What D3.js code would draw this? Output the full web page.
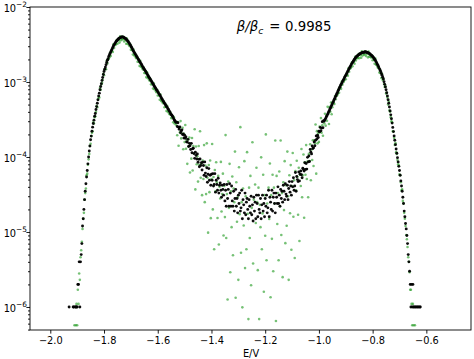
<!DOCTYPE html>
<html><head><meta charset="utf-8">
<script src="https://cdn.jsdelivr.net/npm/d3@7"></script>
<style>body{margin:0;background:#fff}svg{display:block}text{font-family:"DejaVu Sans",sans-serif}</style>
</head><body>
<svg id="chart" width="474" height="359"></svg>
<script>
// Histogram bins in E/V
const binStart = -1.93;
const binWidth = 0.0025;

// black series: P(E/V) per bin (null = empty bin)
const blackP = [
/*0*/ 1e-6,null,null,null,null,null,1e-6,1e-6,null,1e-6,
/*10*/ 1e-6,1e-6,1e-6,2e-6,2e-6,4e-6,1e-6,4e-6,5e-6,7e-6,
/*20*/ 1.2e-5,1.5e-5,2.0e-5,2.7e-5,3.5e-5,4.4e-5,5.4e-5,6.6e-5,8.1e-5,1.0e-4,
/*30*/ 1.2e-4,1.4e-4,1.7e-4,1.9e-4,2.2e-4,2.5e-4,2.8e-4,3.1e-4,3.5e-4,3.8e-4,
/*40*/ 4.3e-4,4.7e-4,5.2e-4,5.8e-4,6.5e-4,7.1e-4,7.9e-4,8.7e-4,9.5e-4,1.05e-3,
/*50*/ 1.15e-3,1.26e-3,1.38e-3,1.48e-3,1.58e-3,1.70e-3,1.82e-3,1.95e-3,2.04e-3,2.19e-3,
/*60*/ 2.29e-3,2.40e-3,2.51e-3,2.63e-3,2.75e-3,2.88e-3,3.02e-3,3.13e-3,3.24e-3,3.35e-3,
/*70*/ 3.47e-3,3.55e-3,3.63e-3,3.72e-3,3.80e-3,3.85e-3,3.89e-3,3.94e-3,3.98e-3,4.0e-3,
/*80*/ 4.0e-3,3.94e-3,3.89e-3,3.85e-3,3.80e-3,3.72e-3,3.63e-3,3.55e-3,3.47e-3,3.35e-3,
/*90*/ 3.24e-3,3.13e-3,3.02e-3,2.90e-3,2.79e-3,2.68e-3,2.57e-3,2.48e-3,2.40e-3,2.32e-3,
/*100*/ 2.24e-3,2.16e-3,2.09e-3,2.02e-3,1.95e-3,1.88e-3,1.82e-3,1.76e-3,1.70e-3,1.64e-3,
/*110*/ 1.58e-3,1.53e-3,1.48e-3,1.43e-3,1.38e-3,1.33e-3,1.29e-3,1.24e-3,1.20e-3,1.16e-3,
/*120*/ 1.12e-3,1.08e-3,1.05e-3,1.01e-3,9.8e-4,9.4e-4,9.1e-4,8.8e-4,8.5e-4,8.2e-4,
/*130*/ 7.9e-4,7.7e-4,7.4e-4,7.2e-4,6.9e-4,6.7e-4,6.5e-4,6.2e-4,6.0e-4,5.8e-4,
/*140*/ 5.6e-4,5.4e-4,5.2e-4,5.1e-4,4.9e-4,4.7e-4,4.6e-4,4.4e-4,4.3e-4,4.1e-4,
/*150*/ 4.0e-4,3.8e-4,3.7e-4,3.6e-4,3.5e-4,3.35e-4,3.2e-4,3.1e-4,3.0e-4,2.9e-4,
/*160*/ 2.90e-4,2.55e-4,2.86e-4,2.49e-4,2.34e-4,2.51e-4,2.11e-4,2.23e-4,2.30e-4,1.99e-4,
/*170*/ 2.03e-4,1.79e-4,1.95e-4,1.78e-4,1.85e-4,1.59e-4,1.58e-4,1.72e-4,1.38e-4,1.52e-4,
/*180*/ 1.41e-4,1.26e-4,1.52e-4,1.14e-4,1.29e-4,1.31e-4,1.11e-4,9.6e-5,1.16e-4,1.05e-4,
/*190*/ 9.4e-5,1.10e-4,8.5e-5,9.3e-5,7.4e-5,9.4e-5,7.7e-5,8.4e-5,6.7e-5,8.5e-5,
/*200*/ 7.7e-5,5.7e-5,8.6e-5,6.1e-5,5.5e-5,7.2e-5,4.6e-5,5.9e-5,7.0e-5,4.9e-5,
/*210*/ 5.7e-5,4.2e-5,5.9e-5,4.9e-5,6.0e-5,4.1e-5,4.3e-5,6.0e-5,3.4e-5,4.9e-5,
/*220*/ 4.3e-5,3.6e-5,5.2e-5,3.3e-5,4.2e-5,4.5e-5,3.6e-5,2.9e-5,4.2e-5,3.7e-5,
/*230*/ 3.1e-5,4.3e-5,2.6e-5,3.6e-5,2.2e-5,4.3e-5,2.8e-5,3.7e-5,2.2e-5,4.4e-5,
/*240*/ 3.3e-5,2.2e-5,4.1e-5,2.6e-5,2.2e-5,3.5e-5,1.9e-5,2.8e-5,3.7e-5,2.2e-5,
/*250*/ 2.8e-5,1.8e-5,3.1e-5,2.4e-5,3.3e-5,1.9e-5,2.1e-5,3.6e-5,1.5e-5,2.7e-5,
/*260*/ 2.3e-5,1.8e-5,3.3e-5,1.7e-5,2.5e-5,2.8e-5,2.0e-5,1.5e-5,2.7e-5,2.2e-5,
/*270*/ 1.8e-5,3.0e-5,1.7e-5,2.3e-5,1.4e-5,2.9e-5,1.9e-5,2.5e-5,1.5e-5,3.1e-5,
/*280*/ 2.4e-5,1.6e-5,3.1e-5,2.0e-5,1.8e-5,2.8e-5,1.5e-5,2.3e-5,3.1e-5,1.9e-5,
/*290*/ 2.4e-5,1.6e-5,2.8e-5,2.2e-5,3.1e-5,1.8e-5,2.1e-5,3.6e-5,1.6e-5,2.9e-5,
/*300*/ 2.5e-5,2.0e-5,3.6e-5,1.9e-5,2.9e-5,3.3e-5,2.4e-5,1.8e-5,3.3e-5,2.9e-5,
/*310*/ 2.4e-5,4.0e-5,2.4e-5,3.1e-5,2.2e-5,3.7e-5,2.8e-5,3.5e-5,2.5e-5,4.2e-5,
/*320*/ 3.5e-5,2.7e-5,4.4e-5,3.2e-5,3.0e-5,4.2e-5,2.7e-5,3.8e-5,4.7e-5,3.4e-5,
/*330*/ 4.1e-5,3.1e-5,4.7e-5,4.0e-5,5.3e-5,3.6e-5,4.1e-5,6.2e-5,3.5e-5,5.5e-5,
/*340*/ 5.0e-5,4.7e-5,6.3e-5,4.8e-5,5.9e-5,6.5e-5,5.8e-5,5.3e-5,7.1e-5,6.8e-5,
/*350*/ 6.5e-5,8.4e-5,6.8e-5,8.2e-5,6.9e-5,9.9e-5,8.6e-5,1.03e-4,8.7e-5,1.26e-4,
/*360*/ 1.16e-4,1.10e-4,1.40e-4,1.30e-4,1.33e-4,1.59e-4,1.41e-4,1.67e-4,1.91e-4,1.74e-4,
/*370*/ 1.95e-4,1.82e-4,2.21e-4,2.16e-4,2.48e-4,2.24e-4,2.43e-4,2.95e-4,2.45e-4,3.02e-4,
/*380*/ 3.02e-4,3.14e-4,3.27e-4,3.41e-4,3.55e-4,3.72e-4,3.89e-4,4.07e-4,4.27e-4,4.47e-4,
/*390*/ 4.68e-4,4.90e-4,5.13e-4,5.37e-4,5.62e-4,5.89e-4,6.17e-4,6.46e-4,6.76e-4,7.08e-4,
/*400*/ 7.41e-4,7.76e-4,8.13e-4,8.51e-4,8.91e-4,9.28e-4,9.66e-4,1.01e-3,1.05e-3,1.09e-3,
/*410*/ 1.14e-3,1.18e-3,1.23e-3,1.28e-3,1.33e-3,1.39e-3,1.45e-3,1.50e-3,1.57e-3,1.63e-3,
/*420*/ 1.70e-3,1.76e-3,1.82e-3,1.88e-3,1.95e-3,2.01e-3,2.07e-3,2.13e-3,2.19e-3,2.23e-3,
/*430*/ 2.26e-3,2.30e-3,2.34e-3,2.37e-3,2.40e-3,2.43e-3,2.45e-3,2.47e-3,2.48e-3,2.50e-3,
/*440*/ 2.51e-3,2.51e-3,2.51e-3,2.49e-3,2.48e-3,2.45e-3,2.43e-3,2.40e-3,2.37e-3,2.32e-3,
/*450*/ 2.28e-3,2.23e-3,2.19e-3,2.13e-3,2.07e-3,2.01e-3,1.95e-3,1.87e-3,1.80e-3,1.73e-3,
/*460*/ 1.66e-3,1.58e-3,1.51e-3,1.45e-3,1.38e-3,1.30e-3,1.23e-3,1.16e-3,1.10e-3,1.01e-3,
/*470*/ 9.3e-4,8.6e-4,7.9e-4,7.2e-4,6.5e-4,5.8e-4,5.2e-4,4.65e-4,4.12e-4,3.65e-4,
/*480*/ 3.24e-4,2.83e-4,2.48e-4,2.18e-4,1.91e-4,1.67e-4,1.46e-4,1.28e-4,1.12e-4,9.8e-5,
/*490*/ 8.6e-5,7.5e-5,6.6e-5,5.7e-5,4.8e-5,4.1e-5,3.5e-5,2.9e-5,2.4e-5,1.9e-5,
/*500*/ 1.6e-5,1.3e-5,1.1e-5,9e-6,7e-6,5e-6,4e-6,3e-6,2e-6,1e-6,
/*510*/ 2e-6,1e-6,2e-6,1e-6,1e-6,null,1e-6,1e-6,null,1e-6,
/*520*/ 1e-6,null,1e-6,1e-6,null
];

// green series: P(E/V) per bin (null = empty bin)
const greenP = [
/*0*/ null,null,null,null,null,null,null,null,5.7e-7,null,
/*10*/ 5.7e-7,1.1e-6,5.7e-7,1.7e-6,1.1e-6,2.8e-6,2.3e-6,4.6e-6,5.7e-6,7.4e-6,
/*20*/ 1.1e-5,1.5e-5,1.8e-5,2.7e-5,3.3e-5,3.8e-5,5.7e-5,6.0e-5,7.9e-5,9.3e-5,
/*30*/ 1.1e-4,1.4e-4,1.5e-4,1.9e-4,2.1e-4,2.2e-4,2.9e-4,2.8e-4,3.4e-4,3.5e-4,
/*40*/ 4.0e-4,4.8e-4,4.6e-4,5.8e-4,6.2e-4,6.2e-4,8.3e-4,7.9e-4,9.3e-4,9.8e-4,
/*50*/ 1.07e-3,1.29e-3,1.23e-3,1.48e-3,1.50e-3,1.48e-3,1.91e-3,1.77e-3,2.00e-3,2.04e-3,
/*60*/ 2.13e-3,2.45e-3,2.23e-3,2.63e-3,2.61e-3,2.51e-3,3.17e-3,2.85e-3,3.18e-3,3.12e-3,
/*70*/ 3.23e-3,3.62e-3,3.23e-3,3.72e-3,3.61e-3,3.35e-3,4.08e-3,3.59e-3,3.90e-3,3.72e-3,
/*80*/ 3.72e-3,4.02e-3,3.46e-3,3.85e-3,3.61e-3,3.24e-3,3.81e-3,3.23e-3,3.40e-3,3.12e-3,
/*90*/ 3.01e-3,3.19e-3,2.69e-3,2.90e-3,2.65e-3,2.33e-3,2.70e-3,2.26e-3,2.35e-3,2.16e-3,
/*100*/ 2.08e-3,2.20e-3,1.86e-3,2.02e-3,1.85e-3,1.64e-3,1.91e-3,1.60e-3,1.67e-3,1.53e-3,
/*110*/ 1.47e-3,1.56e-3,1.32e-3,1.43e-3,1.31e-3,1.16e-3,1.35e-3,1.13e-3,1.18e-3,1.08e-3,
/*120*/ 1.04e-3,1.10e-3,9.3e-4,1.01e-3,9.3e-4,8.2e-4,9.6e-4,8.0e-4,8.3e-4,7.6e-4,
/*130*/ 7.3e-4,7.9e-4,6.6e-4,7.2e-4,6.6e-4,5.8e-4,6.8e-4,5.6e-4,5.9e-4,5.4e-4,
/*140*/ 5.2e-4,5.5e-4,4.6e-4,5.1e-4,4.7e-4,4.1e-4,4.8e-4,4.0e-4,4.2e-4,3.8e-4,
/*150*/ 3.7e-4,3.9e-4,3.3e-4,3.6e-4,3.3e-4,2.9e-4,3.4e-4,2.8e-4,2.9e-4,2.7e-4,
/*160*/ 2.9e-4,1.95e-4,2.93e-4,1.41e-4,2.48e-4,2.13e-4,3.01e-4,1.77e-4,2.06e-4,2.45e-4,
/*170*/ 1.27e-4,2.04e-4,1.58e-4,2.67e-4,1.29e-4,1.68e-4,8.1e-5,1.71e-4,1.39e-4,1.82e-4,
/*180*/ 6.2e-5,1.49e-4,9.5e-5,1.79e-4,6.6e-5,1.40e-4,1.11e-4,2.34e-4,3.7e-5,1.38e-4,
/*190*/ 8.0e-5,1.02e-4,4.7e-5,1.40e-4,7.9e-5,2.20e-4,5.3e-5,8.1e-5,3.1e-5,9.0e-5,
/*200*/ 5.1e-5,1.44e-4,2.5e-5,7.7e-5,3.2e-5,1.52e-4,5.3e-5,9.8e-6,7.8e-5,3.4e-5,
/*210*/ 9.0e-5,1.53e-5,5.1e-5,1.49e-4,2.0e-5,5.4e-5,5.9e-6,6.7e-5,3.5e-5,8.5e-5,
/*220*/ 4.6e-5,1.54e-5,5.6e-5,6.8e-6,4.0e-5,2.8e-5,8.6e-5,1.88e-5,3.2e-5,6.0e-5,
/*230*/ 9.0e-6,4.1e-5,1.58e-5,1.96e-4,8.3e-6,3.2e-5,1.26e-6,4.7e-5,2.1e-5,8.1e-5,
/*240*/ 2.9e-6,3.5e-5,1.16e-5,5.5e-5,4.9e-6,3.8e-5,2.5e-5,1.18e-4,1.33e-6,4.6e-5,
/*250*/ 1.37e-5,2.9e-5,2.3e-6,7.3e-5,1.73e-5,2.5e-4,5.3e-6,2.5e-5,9.9e-7,3.8e-5,
/*260*/ 1.22e-5,8.8e-5,3.3e-6,3.0e-5,5.9e-6,1.16e-4,1.75e-5,6.9e-7,3.9e-5,8.3e-6,
/*270*/ 5.6e-5,1.95e-6,2.1e-5,1.57e-4,3.8e-6,2.7e-5,3.8e-7,4.3e-5,1.32e-5,7.2e-5,
/*280*/ 2.5e-5,3.1e-6,3.9e-5,6.9e-7,2.3e-5,1.16e-5,9.9e-5,5.9e-6,1.77e-5,5.8e-5,
/*290*/ 1.6e-6,3.1e-5,8.9e-6,2.0e-4,4.2e-6,2.4e-5,4.2e-7,3.9e-5,1.49e-5,8.2e-5,
/*300*/ 1.35e-6,3.1e-5,8.1e-6,5.8e-5,3.0e-6,3.9e-5,2.4e-5,1.66e-4,6.5e-7,5.6e-5,
/*310*/ 1.28e-5,3.3e-5,4.2e-6,6.4e-5,2.2e-5,1.66e-4,9.1e-6,3.3e-5,2.5e-6,4.6e-5,
/*320*/ 1.96e-5,8.8e-5,7.1e-6,4.2e-5,1.21e-5,1.18e-4,3.0e-5,2.3e-6,5.7e-5,1.78e-5,
/*330*/ 7.8e-5,5.8e-6,4.1e-5,1.13e-4,1.6e-5,4.9e-5,4.5e-6,6.5e-5,3.6e-5,8.9e-5,
/*340*/ 5.4e-5,1.7e-5,7.2e-5,7.6e-6,5.8e-5,4.1e-5,1.28e-4,2.9e-5,5.7e-5,1.08e-4,
/*350*/ 1.55e-5,8.5e-5,5.8e-5,1.44e-4,5.1e-5,8.7e-5,2.9e-5,1.10e-4,8.8e-5,1.48e-4,
/*360*/ 4.9e-5,1.26e-4,9.1e-5,1.67e-4,7.6e-5,1.66e-4,1.52e-4,2.71e-4,6.0e-5,2.21e-4,
/*370*/ 1.52e-4,2.07e-4,1.59e-4,2.54e-4,2.20e-4,3.30e-4,2.11e-4,2.65e-4,1.92e-4,3.08e-4,
/*380*/ 2.81e-4,3.78e-4,2.62e-4,3.55e-4,3.05e-4,4.66e-4,3.79e-4,2.75e-4,4.62e-4,4.01e-4,
/*390*/ 5.32e-4,3.72e-4,4.6e-4,5.4e-4,5.3e-4,5.1e-4,6.5e-4,5.9e-4,6.6e-4,6.6e-4,
/*400*/ 6.9e-4,7.9e-4,7.2e-4,8.5e-4,8.5e-4,8.1e-4,1.01e-3,9.2e-4,1.03e-3,1.01e-3,
/*410*/ 1.06e-3,1.20e-3,1.09e-3,1.28e-3,1.26e-3,1.21e-3,1.52e-3,1.37e-3,1.54e-3,1.52e-3,
/*420*/ 1.58e-3,1.80e-3,1.62e-3,1.88e-3,1.85e-3,1.75e-3,2.17e-3,1.94e-3,2.15e-3,2.07e-3,
/*430*/ 2.10e-3,2.35e-3,2.08e-3,2.37e-3,2.28e-3,2.11e-3,2.57e-3,2.25e-3,2.43e-3,2.33e-3,
/*440*/ 2.33e-3,2.56e-3,2.23e-3,2.49e-3,2.36e-3,2.13e-3,2.55e-3,2.18e-3,2.32e-3,2.16e-3,
/*450*/ 2.12e-3,2.27e-3,1.95e-3,2.13e-3,1.97e-3,1.75e-3,2.05e-3,1.70e-3,1.76e-3,1.61e-3,
/*460*/ 1.54e-3,1.61e-3,1.34e-3,1.45e-3,1.31e-3,1.13e-3,1.29e-3,1.06e-3,1.08e-3,9.4e-4,
/*470*/ 8.6e-4,8.8e-4,7.0e-4,7.2e-4,6.2e-4,5.0e-4,5.5e-4,4.2e-4,4.0e-4,3.4e-4,
/*480*/ 3.0e-4,2.9e-4,2.2e-4,2.18e-4,1.8e-4,1.45e-4,1.53e-4,1.16e-4,1.10e-4,9.1e-5,
/*490*/ 8.0e-5,7.7e-5,5.9e-5,5.7e-5,4.6e-5,3.6e-5,3.7e-5,2.6e-5,2.4e-5,1.8e-5,
/*500*/ 1.5e-5,1.2e-5,9.1e-6,8.0e-6,6.3e-6,4.6e-6,4.0e-6,2.9e-6,1.7e-6,1.7e-6,
/*510*/ 1.1e-6,5.7e-7,1.1e-6,5.7e-7,null,5.7e-7,null,null,null,null,
/*520*/ null,null,null,null,null
];

const xTicks = [-2.0, -1.8, -1.6, -1.4, -1.2, -1.0, -0.8, -0.6];
const yTickExponents = [-2, -3, -4, -5, -6];
const xLabel = "E/V";
const ratioValue = "0.9985";

// ---------- drawing ----------
const svg = d3.select("#chart");
svg.append("rect").attr("width", 474).attr("height", 359).attr("fill", "#fff");

const L = 30, R = 471, T = 7, B = 330;
const x = d3.scaleLinear().domain([-2.0756, -0.4338]).range([L, R]);
const y = d3.scaleLog().domain([Math.pow(10, -6.3067), 1e-2]).range([B, T]);

svg.append("defs").append("clipPath").attr("id", "plotclip")
  .append("rect").attr("x", L).attr("y", T).attr("width", R - L).attr("height", B - T);

function toPoints(arr) {
  const pts = [];
  arr.forEach((v, i) => { if (v != null) pts.push({e: +(binStart + i * binWidth).toFixed(4), p: v}); });
  return pts;
}
const plot = svg.append("g").attr("clip-path", "url(#plotclip)");

plot.append("g").selectAll("circle").data(toPoints(greenP)).join("circle")
  .attr("cx", d => x(d.e)).attr("cy", d => y(d.p)).attr("r", 1.3)
  .attr("fill", "#2ca02c").attr("fill-opacity", 0.65);

plot.append("g").selectAll("circle").data(toPoints(blackP)).join("circle")
  .attr("cx", d => x(d.e)).attr("cy", d => y(d.p)).attr("r", 1.45)
  .attr("fill", "#000").attr("fill-opacity", 0.95);

// axes
const fs = 9.8;
const xAxis = svg.append("g").attr("transform", `translate(0,${B})`)
  .call(d3.axisBottom(x).tickValues(xTicks).tickSize(3.6).tickPadding(3.4).tickFormat(d3.format(".1f")));
xAxis.select(".domain").remove();
xAxis.selectAll("text").attr("font-size", fs).attr("font-family", "DejaVu Sans").attr("fill", "#000");
xAxis.selectAll("line").attr("stroke", "#000").attr("stroke-width", 0.9);

const majors = yTickExponents.map(e => Math.pow(10, e));
const minors = [];
[-7, -6, -5, -4, -3].forEach(e => { for (let k = 2; k <= 9; k++) { const v = k * Math.pow(10, e); if (v >= y.domain()[0] && v <= 1e-2) minors.push(v); } });

const yMaj = svg.append("g").attr("transform", `translate(${L},0)`)
  .call(d3.axisLeft(y).tickValues(majors).tickSize(3.6).tickFormat(""));
const yMin = svg.append("g").attr("transform", `translate(${L},0)`)
  .call(d3.axisLeft(y).tickValues(minors).tickSize(2).tickFormat(""));
[yMaj, yMin].forEach(g => { g.select(".domain").remove(); g.selectAll("line").attr("stroke", "#000").attr("stroke-width", 0.9); });

const ylab = svg.append("g");
yTickExponents.forEach(e => {
  const t = ylab.append("text").attr("x", 27).attr("y", y(Math.pow(10, e)) + 4.6)
    .attr("text-anchor", "end").attr("fill", "#000");
  t.append("tspan").attr("font-size", fs).text("10");
  t.append("tspan").attr("font-size", 7.4).attr("dy", -4.6).text("\u2212" + Math.abs(e));
});

// frame
svg.append("rect").attr("x", L).attr("y", T).attr("width", R - L).attr("height", B - T)
  .attr("fill", "none").attr("stroke", "#000").attr("stroke-width", 0.9);

// x label
svg.append("text").attr("x", (L + R) / 2 + 0.5).attr("y", 356.6).attr("text-anchor", "middle")
  .attr("font-size", fs).attr("fill", "#000").text(xLabel);

// annotation  β/β_c = 0.9985
const ann = svg.append("text").attr("y", 30.7).attr("fill", "#000").attr("font-size", 13.3);
ann.append("tspan").attr("x", 236.7).attr("font-style", "italic").text("\u03b2/\u03b2");
ann.append("tspan").attr("font-style", "italic").attr("font-size", 9.3).attr("dy", 3).text("c");
ann.append("tspan").attr("x", 269.3).attr("dy", -3).text("=");
ann.append("tspan").attr("x", 285).text(ratioValue);
</script>
</body></html>
